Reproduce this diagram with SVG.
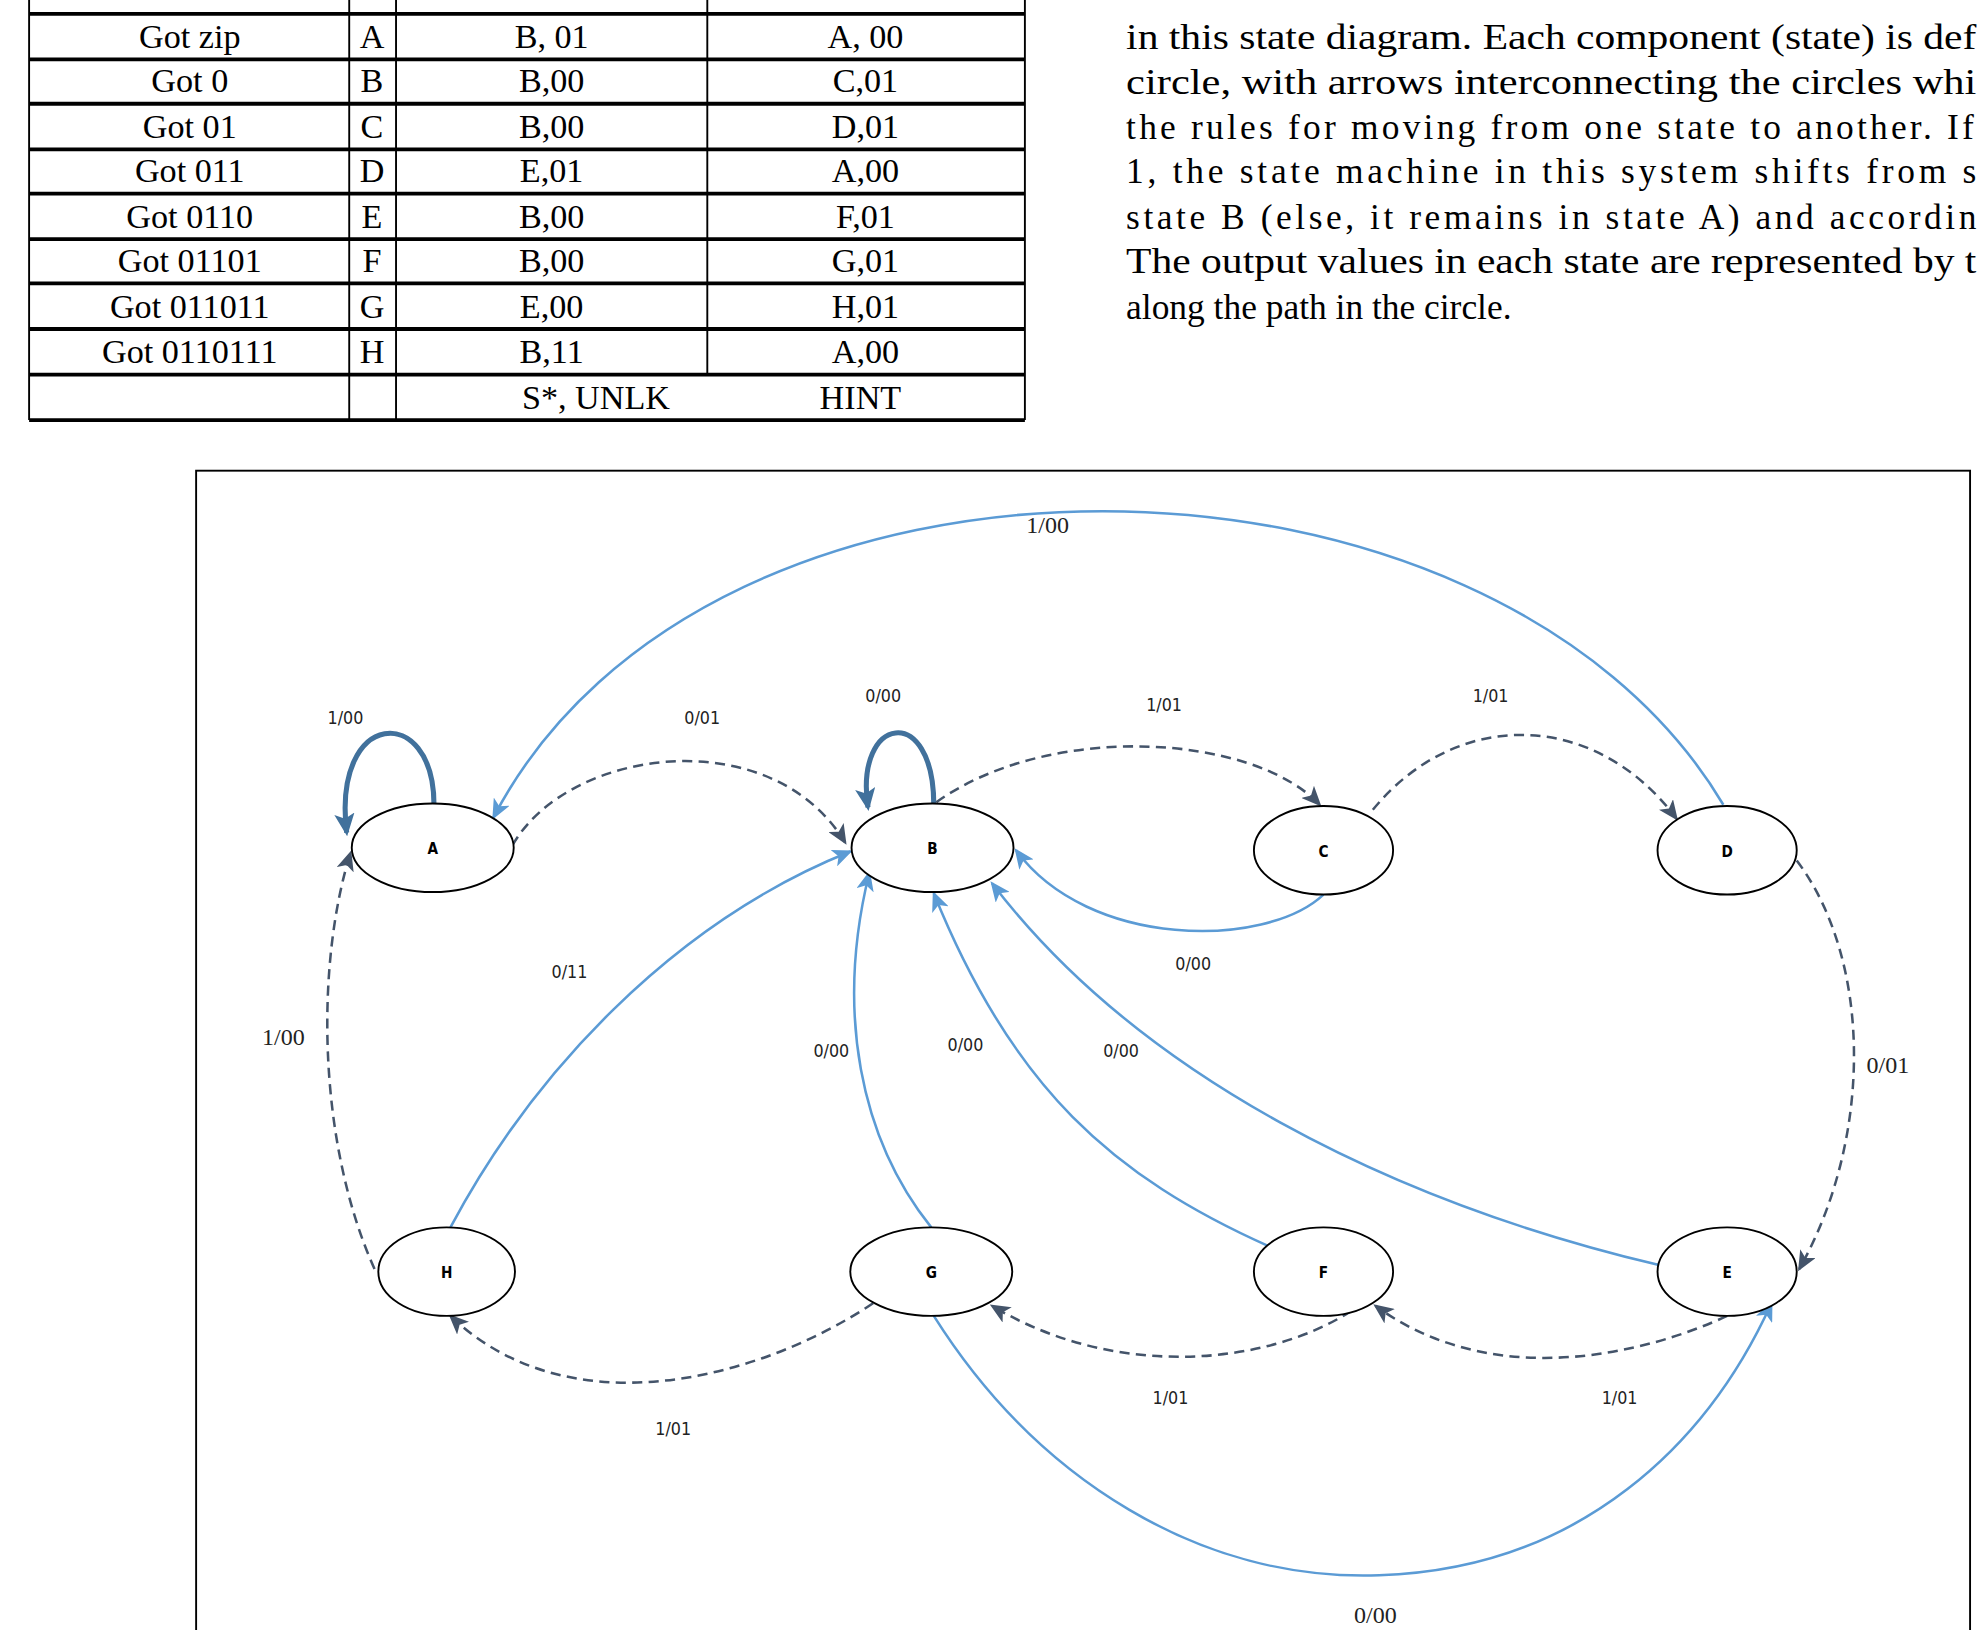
<svg xmlns="http://www.w3.org/2000/svg" width="1984" height="1630" viewBox="0 0 1984 1630">
<style>
.t{font-family:"Liberation Serif",serif;font-size:27px;fill:#000;text-anchor:middle}
.p{font-family:"Liberation Serif",serif;font-size:28px;fill:#000}
.n{font-family:"DejaVu Sans Condensed","DejaVu Sans",sans-serif;font-weight:bold;font-size:12px;text-anchor:middle;fill:#000}
.l{font-family:"DejaVu Sans Condensed","DejaVu Sans",sans-serif;font-size:14px;text-anchor:middle;fill:#222}
.ls{font-family:"Liberation Serif",serif;font-size:19px;text-anchor:middle;fill:#222}
.st{fill:#fff;stroke:#000;stroke-width:1.5}
.s{fill:none;stroke:#5b9bd5;stroke-width:2}
.d{fill:none;stroke:#44546a;stroke-width:2;stroke-dasharray:8,5}
.k{fill:none;stroke:#41719c;stroke-width:4}
.g{stroke:#000;stroke-width:1.5;fill:none}
.gt{stroke:#000;stroke-width:3}
</style>
<defs>
<marker id="as" markerWidth="16" markerHeight="14" refX="14" refY="7" orient="auto" markerUnits="userSpaceOnUse"><path d="M0,0 L16,7 L0,14 L4,7 z" fill="#5b9bd5"/></marker>
<marker id="ad" markerWidth="16" markerHeight="14" refX="14" refY="7" orient="auto" markerUnits="userSpaceOnUse"><path d="M0,0 L16,7 L0,14 L4,7 z" fill="#44546a"/></marker>
<marker id="ak" markerWidth="18" markerHeight="16" refX="15" refY="8" orient="auto" markerUnits="userSpaceOnUse"><path d="M0,0 L18,8 L0,16 L4,8 z" fill="#41719c"/></marker>
</defs>
<g transform="scale(1.2653)">
<g id="table">
<g class="g">
<line x1="23" y1="0" x2="23" y2="332"/><line x1="276" y1="0" x2="276" y2="332"/><line x1="313" y1="0" x2="313" y2="332"/><line x1="559" y1="0" x2="559" y2="297"/><line x1="810" y1="0" x2="810" y2="332"/>
</g>
<g class="gt">
<line x1="23" y1="11" x2="810" y2="11"/><line x1="23" y1="47" x2="810" y2="47"/><line x1="23" y1="82" x2="810" y2="82"/><line x1="23" y1="118" x2="810" y2="118"/><line x1="23" y1="153" x2="810" y2="153"/><line x1="23" y1="189" x2="810" y2="189"/><line x1="23" y1="224" x2="810" y2="224"/><line x1="23" y1="260" x2="810" y2="260"/><line x1="23" y1="296" x2="810" y2="296"/><line x1="23" y1="332" x2="810" y2="332"/>
</g>
<text class="t" x="150" y="38">Got zip</text><text class="t" x="294" y="38">A</text><text class="t" x="436" y="38">B, 01</text><text class="t" x="684" y="38">A, 00</text>
<text class="t" x="150" y="73">Got 0</text><text class="t" x="294" y="73">B</text><text class="t" x="436" y="73">B,00</text><text class="t" x="684" y="73">C,01</text>
<text class="t" x="150" y="109">Got 01</text><text class="t" x="294" y="109">C</text><text class="t" x="436" y="109">B,00</text><text class="t" x="684" y="109">D,01</text>
<text class="t" x="150" y="144">Got 011</text><text class="t" x="294" y="144">D</text><text class="t" x="436" y="144">E,01</text><text class="t" x="684" y="144">A,00</text>
<text class="t" x="150" y="180">Got 0110</text><text class="t" x="294" y="180">E</text><text class="t" x="436" y="180">B,00</text><text class="t" x="684" y="180">F,01</text>
<text class="t" x="150" y="215">Got 01101</text><text class="t" x="294" y="215">F</text><text class="t" x="436" y="215">B,00</text><text class="t" x="684" y="215">G,01</text>
<text class="t" x="150" y="251">Got 011011</text><text class="t" x="294" y="251">G</text><text class="t" x="436" y="251">E,00</text><text class="t" x="684" y="251">H,01</text>
<text class="t" x="150" y="287">Got 0110111</text><text class="t" x="294" y="287">H</text><text class="t" x="436" y="287">B,11</text><text class="t" x="684" y="287">A,00</text>
<text class="t" x="471" y="323">S*, UNLK</text><text class="t" x="680" y="323">HINT</text>
</g>
<g id="paragraph">
<text class="p" x="890" y="39" textLength="672" lengthAdjust="spacingAndGlyphs">in this state diagram. Each component (state) is def</text>
<text class="p" x="890" y="74" textLength="672" lengthAdjust="spacingAndGlyphs">circle, with arrows interconnecting the circles whi</text>
<text class="p" x="890" y="110" textLength="670" lengthAdjust="spacing">the rules for moving from one state to another. If</text>
<text class="p" x="890" y="145" textLength="672" lengthAdjust="spacing">1, the state machine in this system shifts from s</text>
<text class="p" x="890" y="181" textLength="672" lengthAdjust="spacing">state B (else, it remains in state A) and accordin</text>
<text class="p" x="890" y="216" textLength="672" lengthAdjust="spacingAndGlyphs">The output values in each state are represented by t</text>
<text class="p" x="890" y="252">along the path in the circle.</text>
</g>
<rect x="155" y="372" width="1402" height="940" fill="none" stroke="#000" stroke-width="1.5"/>
<g id="connectors">
<path class="k" d="M343,636 C343,555 262,560 274,658" marker-end="url(#ak)"/>
<path class="k" d="M738,636 C738,555 675,565 686,638" marker-end="url(#ak)"/>
<path class="d" d="M405,668 C450,590 610,570 668,666" marker-end="url(#ad)"/>
<path class="d" d="M740,634 C830,570 990,580 1043,636" marker-end="url(#ad)"/>
<path class="d" d="M1085,640 C1150,560 1260,560 1325,647" marker-end="url(#ad)"/>
<path class="s" d="M1362,636 C1180,330 560,320 390,646" marker-end="url(#as)"/>
<path class="s" d="M1046,707 C1000,750 860,750 803,672" marker-end="url(#as)"/>
<path class="d" d="M1420,680 C1480,760 1480,900 1422,1003" marker-end="url(#ad)"/>
<path class="d" d="M296,1003 C250,900 250,760 277,674" marker-end="url(#ad)"/>
<path class="s" d="M356,970 C420,850 530,730 672,673" marker-end="url(#as)"/>
<path class="s" d="M736,970 C680,900 660,800 687,690" marker-end="url(#as)"/>
<path class="s" d="M1003,985 C880,930 800,860 738,706" marker-end="url(#as)"/>
<path class="s" d="M1312,1000 C1100,950 900,850 784,698" marker-end="url(#as)"/>
<path class="d" d="M690,1030 C600,1090 450,1130 356,1040" marker-end="url(#ad)"/>
<path class="d" d="M1068,1036 C1000,1080 880,1090 784,1032" marker-end="url(#ad)"/>
<path class="d" d="M1365,1040 C1300,1070 1180,1100 1087,1032" marker-end="url(#ad)"/>
<path class="s" d="M738,1040 C820,1170 950,1250 1090,1245 C1250,1240 1350,1140 1400,1030" marker-end="url(#as)"/>
<text class="l" x="273" y="572">1/00</text>
<text class="l" x="698" y="555">0/00</text>
<text class="l" x="555" y="572">0/01</text>
<text class="l" x="920" y="562">1/01</text>
<text class="l" x="1178" y="555">1/01</text>
<text class="ls" x="828" y="421">1/00</text>
<text class="l" x="943" y="767">0/00</text>
<text class="ls" x="1492" y="848">0/01</text>
<text class="ls" x="224" y="826">1/00</text>
<text class="l" x="450" y="773">0/11</text>
<text class="l" x="657" y="835">0/00</text>
<text class="l" x="763" y="831">0/00</text>
<text class="l" x="886" y="835">0/00</text>
<text class="l" x="532" y="1134">1/01</text>
<text class="l" x="925" y="1110">1/01</text>
<text class="l" x="1280" y="1110">1/01</text>
<text class="ls" x="1087" y="1283">0/00</text>
</g>
<g id="A"><ellipse class="st" cx="342" cy="670" rx="64" ry="35"/><text class="n" x="342" y="675">A</text></g>
<g id="B"><ellipse class="st" cx="737" cy="670" rx="64" ry="35"/><text class="n" x="737" y="675">B</text></g>
<g id="C"><ellipse class="st" cx="1046" cy="672" rx="55" ry="35"/><text class="n" x="1046" y="677">C</text></g>
<g id="D"><ellipse class="st" cx="1365" cy="672" rx="55" ry="35"/><text class="n" x="1365" y="677">D</text></g>
<g id="H"><ellipse class="st" cx="353" cy="1005" rx="54" ry="35"/><text class="n" x="353" y="1010">H</text></g>
<g id="G"><ellipse class="st" cx="736" cy="1005" rx="64" ry="35"/><text class="n" x="736" y="1010">G</text></g>
<g id="F"><ellipse class="st" cx="1046" cy="1005" rx="55" ry="35"/><text class="n" x="1046" y="1010">F</text></g>
<g id="E"><ellipse class="st" cx="1365" cy="1005" rx="55" ry="35"/><text class="n" x="1365" y="1010">E</text></g>
</g>
</svg>
